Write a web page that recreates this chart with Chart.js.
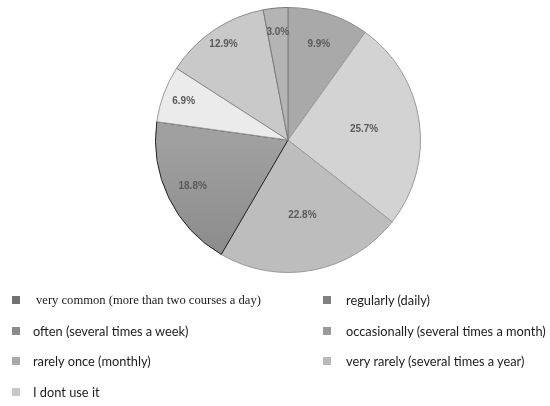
<!DOCTYPE html>
<html lang="en">
	<head>
		<meta charset="UTF-8" />
		<title>Usage frequency</title>
		<script src="https://cdn.jsdelivr.net/npm/chart.js@4.4.0/dist/chart.umd.min.js"></script>
		<style>
			body { margin: 0; background: #fff; width: 550px; height: 406px; position: relative; overflow: hidden; }
			#pieBox { position: absolute; left: 155px; top: 7px; width: 266px; height: 266px; }
			#legend { position: absolute; left: 0; top: 0; width: 550px; height: 406px; pointer-events: none; }
			.item { position: absolute; font-family: "Lato", sans-serif; font-size: 12.8px; color: #1c1c1c; line-height: 16px; white-space: nowrap; }
			.item .sw { position: absolute; width: 8px; height: 8px; top: 4px; }
			.item.serif { font-family: "Liberation Serif", serif; font-size: 12.6px; }
		</style>
	</head>
	<body>
		<div id="pieBox"><canvas id="pie"></canvas></div>
		<div id="legend"></div>

		<script>
			// 데이터
			const categories = [
				"very common (more than two courses a day)",
				"regularly (daily)",
				"often (several times a week)",
				"occasionally (several times a month)",
				"rarely once (monthly)",
				"very rarely (several times a year)",
				"I dont use it",
			];
			const shares = [9.9, 25.7, 22.8, 18.8, 6.9, 12.9, 3.0];

			// styles
			const sliceColors = ["#a9a9a9", "#d3d3d3", "#bdbdbd", "#959595", "#ebebeb", "#c9c9c9", "#b4b4b4"];
			const legendColors = ["#717171", "#808080", "#8b8b8b", "#9a9a9a", "#a9a9a9", "#b9b9b9", "#c8c8c8"];
			const labelRadius = [0.76, 0.58, 0.58, 0.8, 0.84, 0.87, 0.82];

			// legend (two columns)
			const legendEl = document.getElementById("legend");
			categories.forEach((name, i) => {
				const col = i % 2;
				const row = Math.floor(i / 2);
				const div = document.createElement("div");
				div.className = "item" + (i === 0 ? " serif" : "");
				div.style.left = (col === 0 ? 12 : 323) + "px";
				div.style.top = 292 + row * 30.7 + "px";
				div.innerHTML =
					'<span class="sw" style="left:0;background:' + legendColors[i] + '"></span>' +
					'<span style="position:absolute;left:' + (col === 0 ? (i === 0 ? 24 : 21) : 23) + 'px">' + name + "</span>";
				legendEl.appendChild(div);
			});

			// 퍼센트 라벨
			const sliceLabels = {
				id: "sliceLabels",
				afterDatasetsDraw(chart) {
					const c = chart.ctx;
					const meta = chart.getDatasetMeta(0);
					c.save();
					c.font = "bold 10px 'Liberation Sans', Arial, sans-serif";
					c.fillStyle = "#5a5a5a";
					c.textAlign = "center";
					c.textBaseline = "middle";
					meta.data.forEach((arc, i) => {
						const mid = (arc.startAngle + arc.endAngle) / 2;
						const r = arc.outerRadius * labelRadius[i];
						c.fillText(shares[i].toFixed(1) + "%", arc.x + Math.cos(mid) * r, arc.y + Math.sin(mid) * r);
					});
					c.restore();
				},
			};

			const ctx = document.getElementById("pie").getContext("2d");
			new Chart(ctx, {
				type: "pie",
				data: {
					labels: categories,
					datasets: [
						{
							data: shares,
							backgroundColor: (c) => {
								const area = c.chart.chartArea;
								if (c.dataIndex === 3 && area) {
									const g = c.chart.ctx.createLinearGradient(0, area.top + area.height / 2, 0, area.bottom);
									g.addColorStop(0, "#a0a0a0");
									g.addColorStop(1, "#888888");
									return g;
								}
								return sliceColors[c.dataIndex];
							},
							borderColor: ["#8c8c8c", "#9a9a9a", "#9a9a9a", "#222222", "#9a9a9a", "#8c8c8c", "#7a7a7a"],
							borderWidth: 1,
						},
					],
				},
				options: {
					responsive: true,
					maintainAspectRatio: false,
					animation: false,
					layout: { padding: 0 },
					plugins: {
						legend: { display: false },
						tooltip: { enabled: false },
					},
				},
				plugins: [sliceLabels],
			});
		</script>
	</body>
</html>
